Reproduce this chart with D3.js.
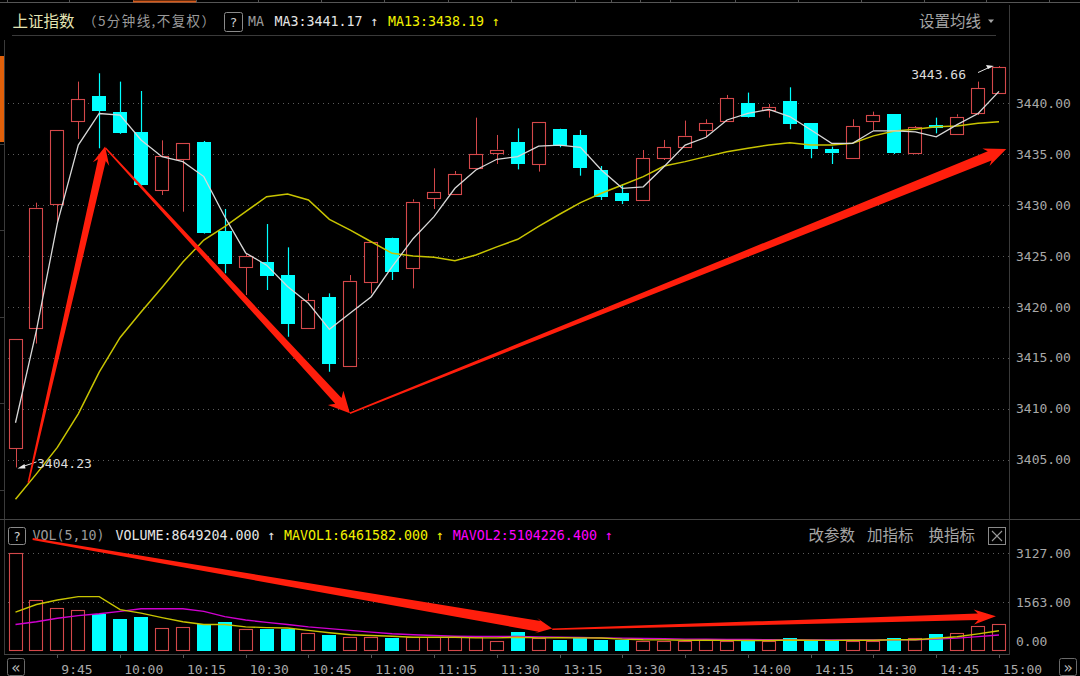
<!DOCTYPE html>
<html><head><meta charset="utf-8">
<script src="https://cdn.jsdelivr.net/npm/d3@7/dist/d3.min.js"></script>
<style>html,body{margin:0;padding:0;background:#000;overflow:hidden}</style>
</head><body>
<svg id="c" width="1080" height="676"></svg>
<script>
// ---------- DATA ----------
const opens  = [3406.10,3417.96,3430.10,3438.26,3440.72,3439.12,3437.15,3431.48,3434.50,3436.23,3427.42,3423.95,3424.44,3423.13,3417.96,3420.94,3414.19,3422.41,3426.80,3423.85,3430.67,3431.06,3433.68,3435.09,3436.23,3434.04,3437.48,3436.86,3433.45,3431.22,3430.50,3434.60,3435.74,3437.38,3438.30,3440.00,3439.34,3440.26,3438.03,3435.48,3434.60,3438.23,3438.95,3435.09,3437.87,3436.95,3439.02,3440.98];
const highs  = [3416.80,3430.24,3437.40,3442.13,3442.95,3442.13,3441.21,3436.36,3436.07,3436.30,3429.62,3425.20,3428.14,3425.85,3421.33,3421.33,3423.13,3426.41,3426.80,3430.57,3433.61,3433.35,3438.59,3436.89,3437.54,3438.17,3437.50,3437.38,3433.84,3432.07,3435.41,3436.40,3438.30,3438.43,3440.82,3441.05,3439.93,3441.57,3438.03,3435.74,3438.43,3439.18,3438.95,3437.77,3438.59,3438.92,3442.13,3443.66];
const lows   = [3404.23,3416.40,3428.20,3436.50,3435.58,3437.00,3431.90,3430.99,3429.35,3427.20,3423.30,3421.17,3421.66,3417.07,3417.96,3413.63,3414.19,3421.33,3422.64,3421.82,3429.62,3431.00,3433.68,3434.04,3433.51,3433.29,3435.68,3432.89,3430.50,3430.10,3430.40,3434.43,3435.70,3436.66,3438.30,3438.60,3438.59,3437.45,3434.60,3434.04,3434.60,3437.38,3435.02,3435.00,3437.05,3436.95,3438.85,3440.98];
const closes = [3416.80,3429.75,3437.38,3440.39,3439.28,3437.05,3431.94,3434.86,3436.07,3427.23,3424.21,3425.00,3423.03,3418.32,3420.68,3414.39,3422.58,3426.41,3423.43,3430.34,3431.32,3433.06,3434.99,3435.45,3434.04,3438.17,3435.81,3433.68,3430.76,3430.40,3434.63,3435.68,3436.82,3438.03,3440.49,3438.62,3439.60,3437.97,3435.48,3435.09,3437.77,3438.82,3435.09,3437.64,3437.54,3438.69,3441.47,3443.54];
const ma3    = [3408.62,3417.70,3428.20,3435.90,3439.00,3438.85,3436.40,3434.76,3434.27,3432.80,3428.86,3425.30,3424.10,3422.00,3420.35,3417.80,3419.40,3421.00,3423.95,3426.70,3428.86,3431.65,3433.45,3434.50,3434.76,3435.80,3435.90,3435.68,3433.45,3431.65,3431.80,3433.80,3435.90,3436.66,3438.36,3439.00,3439.40,3438.70,3437.40,3436.07,3436.07,3437.30,3437.30,3437.20,3436.70,3437.90,3439.00,3441.17];
const ma13   = [3401.10,3403.60,3406.20,3409.50,3413.60,3417.00,3419.50,3421.90,3424.40,3426.57,3427.88,3429.35,3430.83,3431.09,3430.50,3428.60,3427.55,3426.40,3425.26,3425.00,3424.87,3424.54,3425.10,3425.90,3426.64,3427.90,3429.10,3430.24,3431.16,3431.97,3432.80,3433.84,3434.27,3434.76,3435.25,3435.58,3435.90,3436.13,3435.90,3435.90,3436.07,3436.80,3437.28,3437.45,3437.70,3437.77,3438.03,3438.19];
const volumes= [3127,1628,1363,1309,1188,1012,1098,747,769,846,913,693,715,715,571,495,440,440,405,440,440,440,440,329,603,405,361,405,361,341,329,329,329,361,329,319,329,405,319,329,329,329,405,405,539,571,792,864.92];
const mavol1 = [1242,1484,1628,1736,1736,1318,1210,1066,935,846,846,769,747,734,657,581,517,495,472,440,440,440,418,418,440,420,425,420,415,380,360,355,345,345,340,335,335,350,345,340,342,345,360,358,405,455,545,646.16];
const mavol2 = [846,935,1044,1130,1188,1264,1350,1350,1350,1264,1098,990,913,846,769,715,657,603,549,517,495,472,461,461,461,450,440,430,420,410,400,390,380,375,370,365,360,355,352,350,350,350,355,360,380,410,460,510.42];
const tickIdx    = [2,5,8,11,14,17,20,23,26,29,32,35,38,41,44,47];
const tickLabels = ["9:45","10:00","10:15","10:30","10:45","11:00","11:15","11:30","13:15","13:30","13:45","14:00","14:15","14:30","14:45","15:00"];
const priceTicks = [3405,3410,3415,3420,3425,3430,3435,3440];
const volTicks   = [0,1563,3127];
// annotation arrows (bar index, value)
const priceArrows = [
  {from:[0.61,3402.73], to:[4.28,3435.75], w0:1.5, w1:8, hl:14, hw:17},
  {from:[4.30,3435.60], to:[15.98,3409.55], w0:1.5, w1:8.5, hl:17, hw:21},
  {from:[15.98,3409.55], to:[47.35,3435.50], w0:1.5, w1:10, hl:18, hw:19}
];
const volArrows = [
  {from:[0.82,3575], to:[25.65,715], w0:2, w1:11, hl:13, hw:16},
  {from:[25.65,690], to:[46.85,1110], w0:1.5, w1:6.5, hl:18, hw:15}
];

// ---------- SCALES ----------
const svg = d3.select("#c");
const x  = d3.scaleLinear().domain([0,47]).range([15.5,999]);
const yp = d3.scaleLinear().domain([3405,3440]).range([459.6,103.3]);
const yv = d3.scaleLinear().domain([0,3127]).range([651,553]);

const RED="#d4484a", CYAN="#00ffff", AR="#ff1e0c";
const MONO="'DejaVu Sans Mono', monospace", CJK="'Noto Sans CJK SC', sans-serif";

svg.append("rect").attr("width",1080).attr("height",676).attr("fill","#000");

// ---------- FRAME ----------
const fr = svg.append("g").attr("stroke","#3a3a3a").attr("stroke-width",1).attr("fill","none");
fr.append("line").attr("x1",0).attr("x2",1080).attr("y1",2.5).attr("y2",2.5).attr("stroke","#555");
[7,69,133,196,258,321,384,448,511,575,611,640,670,735,798,861,924,986,1049].forEach(v=>
  fr.append("line").attr("x1",v+0.5).attr("x2",v+0.5).attr("y1",0).attr("y2",3).attr("stroke","#555"));
svg.append("line").attr("x1",133).attr("x2",196).attr("y1",1.5).attr("y2",1.5).attr("stroke","#d2591a").attr("stroke-width",2);
fr.append("line").attr("x1",12).attr("x2",996).attr("y1",35.5).attr("y2",35.5);
fr.append("line").attr("x1",1009.5).attr("x2",1009.5).attr("y1",5).attr("y2",655);
fr.append("line").attr("x1",4.5).attr("x2",4.5).attr("y1",40).attr("y2",655);
fr.append("line").attr("x1",0).attr("x2",1080).attr("y1",519.5).attr("y2",519.5).attr("stroke","#444");
fr.append("line").attr("x1",4).attr("x2",1009).attr("y1",654.5).attr("y2",654.5).attr("stroke","#444");
[144,230,317,403,490].forEach(v=>fr.append("line").attr("x1",0).attr("x2",4).attr("y1",v+0.5).attr("y2",v+0.5));
svg.append("rect").attr("x",0).attr("y",56).attr("width",4).attr("height",86).attr("fill","#e0600a");

// ---------- HEADER ----------
const hy = 21.5;
svg.append("text").attr("x",12.5).attr("y",hy).attr("dy","0.36em").attr("font-family",CJK).attr("font-size",15.5).attr("fill","#e4e4b4").text("上证指数");
svg.append("text").attr("x",83).attr("y",hy).attr("dy","0.36em").attr("font-family",CJK).attr("font-size",13.5).attr("fill","#9a9a9a").attr("textLength",132).attr("lengthAdjust","spacing").text("（5分钟线,不复权）");
svg.append("rect").attr("x",224.5).attr("y",12.5).attr("width",18).attr("height",19).attr("rx",2).attr("fill","none").attr("stroke","#8a8a8a");
svg.append("text").attr("x",233.5).attr("y",hy+1).attr("dy","0.36em").attr("text-anchor","middle").attr("font-family",MONO).attr("font-size",13).attr("fill","#cfcfcf").text("?");
const hdr=[["MA",248,"#9a9a9a"],["MA3:3441.17 ↑",274.5,"#e6e6e6"],["MA13:3438.19 ↑",388,"#f2f200"]];
hdr.forEach(h=>svg.append("text").attr("x",h[1]).attr("y",hy).attr("dy","0.36em").attr("font-family",MONO).attr("font-size",13.3).attr("fill",h[2]).text(h[0]));
svg.append("text").attr("x",919).attr("y",hy).attr("dy","0.36em").attr("font-family",CJK).attr("font-size",15.5).attr("fill","#a5a5a5").text("设置均线");
svg.append("path").attr("d","M988,19.5 L994,19.5 L991,23 Z").attr("fill","#a5a5a5");

// ---------- GRID ----------
const grid = svg.append("g").attr("stroke","#5c5c5c").attr("stroke-dasharray","1,4");
priceTicks.forEach(t=>grid.append("line").attr("x1",8).attr("x2",1009).attr("y1",Math.round(yp(t))+0.5).attr("y2",Math.round(yp(t))+0.5));
volTicks.filter(t=>t>0).forEach(t=>grid.append("line").attr("x1",8).attr("x2",1009).attr("y1",Math.round(yv(t))+0.5).attr("y2",Math.round(yv(t))+0.5));

// price axis labels
svg.append("g").selectAll("text").data(priceTicks).join("text")
  .attr("x",1016).attr("y",d=>yp(d)).attr("dy","0.36em")
  .attr("font-family",MONO).attr("font-size",13).attr("fill","#a8a8a8").text(d=>d.toFixed(2));
svg.append("g").selectAll("text").data(volTicks).join("text")
  .attr("x",1016).attr("y",d=>d===0?yv(d)-9.5:yv(d)).attr("dy","0.36em")
  .attr("font-family",MONO).attr("font-size",13).attr("fill","#a8a8a8").text(d=>d.toFixed(2));

// ---------- CANDLES ----------
const cg = svg.append("g");
closes.forEach((c,i)=>{
  const o=opens[i], up=c>=o;
  const cx=Math.round(x(i))+0.5;
  const top=yp(Math.max(o,c)), bot=yp(Math.min(o,c));
  const col=up?RED:CYAN;
  if(up){
    if(yp(highs[i])<top-0.5) cg.append("line").attr("x1",cx).attr("x2",cx).attr("y1",yp(highs[i])).attr("y2",top).attr("stroke",col);
    if(yp(lows[i])>bot+0.5) cg.append("line").attr("x1",cx).attr("x2",cx).attr("y1",bot).attr("y2",yp(lows[i])).attr("stroke",col);
    cg.append("rect").attr("x",Math.round(x(i))-6.5).attr("y",Math.round(top)+0.5).attr("width",13)
      .attr("height",Math.max(1,Math.round(bot)-Math.round(top))).attr("fill","#000").attr("stroke",col).attr("stroke-width",1.1);
  } else {
    cg.append("line").attr("x1",cx).attr("x2",cx).attr("y1",yp(highs[i])).attr("y2",yp(lows[i])).attr("stroke",col).attr("stroke-width",1.2);
    cg.append("rect").attr("x",Math.round(x(i))-7).attr("y",Math.round(top)).attr("width",14)
      .attr("height",Math.max(2,Math.round(bot)-Math.round(top))).attr("fill",col);
  }
});
const lineP = d3.line().x((d,i)=>x(i)).y(d=>yp(d));
svg.append("path").attr("d",lineP(ma13)).attr("fill","none").attr("stroke","#c8c400").attr("stroke-width",1.5);
svg.append("path").attr("d",lineP(ma3)).attr("fill","none").attr("stroke","#d8d8d8").attr("stroke-width",1.3);

// high / low labels
(function(){
  const lx=x(0)+2, ly=yp(lows[0])+1;
  svg.append("line").attr("x1",lx+19).attr("y1",ly-6.5).attr("x2",lx+4).attr("y2",ly-1.5).attr("stroke","#e0e0e0");
  svg.append("path").attr("d",`M${lx},${ly} L${lx+7},${ly-4.5} L${lx+8},${ly}Z`).attr("fill","#e8e8e8");
  svg.append("text").attr("x",lx+19.5).attr("y",ly-5.5).attr("dy","0.36em").attr("font-family",MONO).attr("font-size",13).attr("fill","#dcdcdc").text(lows[0].toFixed(2));
  const hx=x(47)-5, hyy=yp(highs[47]);
  svg.append("line").attr("x1",hx-16).attr("y1",hyy+6.5).attr("x2",hx-4).attr("y2",hyy+1).attr("stroke","#e0e0e0");
  svg.append("path").attr("d",`M${hx},${hyy} L${hx-8},${hyy-1} L${hx-6},${hyy+3}Z`).attr("fill","#e8e8e8");
  svg.append("text").attr("x",hx-28).attr("y",hyy+8).attr("dy","0.36em").attr("text-anchor","end").attr("font-family",MONO).attr("font-size",13).attr("fill","#dcdcdc").text(highs[47].toFixed(2));
})();

// ---------- VOLUME ----------
const vg = svg.append("g");
volumes.forEach((v,i)=>{
  const up = closes[i]>=opens[i];
  const t=Math.round(yv(v)), b=Math.round(yv(0));
  if(up) vg.append("rect").attr("x",Math.round(x(i))-6.5).attr("y",t+0.5).attr("width",13).attr("height",b-t-1).attr("fill","#000").attr("stroke",RED).attr("stroke-width",1.1);
  else vg.append("rect").attr("x",Math.round(x(i))-7).attr("y",t).attr("width",14).attr("height",b-t).attr("fill",CYAN);
});
const lineV = d3.line().x((d,i)=>x(i)).y(d=>yv(d));
svg.append("path").attr("d",lineV(mavol2)).attr("fill","none").attr("stroke","#d000d0").attr("stroke-width",1.4);
svg.append("path").attr("d",lineV(mavol1)).attr("fill","none").attr("stroke","#c8c400").attr("stroke-width",1.4);

// volume header
const vy=535.7;
svg.append("rect").attr("x",8.5).attr("y",527.5).attr("width",17).attr("height",17).attr("rx",2).attr("fill","none").attr("stroke","#8a8a8a");
svg.append("text").attr("x",17).attr("y",vy+0.5).attr("dy","0.36em").attr("text-anchor","middle").attr("font-family",MONO).attr("font-size",12.5).attr("fill","#cfcfcf").text("?");
[["VOL(5,10)",32.5,"#9a9a9a"],["VOLUME:8649204.000 ↑",115.4,"#e6e6e6"],["MAVOL1:6461582.000 ↑",284,"#f2f200"],["MAVOL2:5104226.400 ↑",452.8,"#ff00ff"]]
  .forEach(h=>svg.append("text").attr("x",h[1]).attr("y",vy).attr("dy","0.36em").attr("font-family",MONO).attr("font-size",13.3).attr("fill",h[2]).text(h[0]));
[["改参数",808.6],["加指标",867],["换指标",928.4]].forEach(h=>
  svg.append("text").attr("x",h[1]).attr("y",vy).attr("dy","0.36em").attr("font-family",CJK).attr("font-size",15.5).attr("fill","#a5a5a5").text(h[0]));
svg.append("rect").attr("x",988.5).attr("y",527.5).attr("width",17).attr("height",17).attr("fill","none").attr("stroke","#8a8a8a");
svg.append("path").attr("d","M992,531 L1002,541 M1002,531 L992,541").attr("stroke","#9a9a9a").attr("stroke-width",1.1);

// ---------- TIME AXIS ----------
const ta = svg.append("g");
tickIdx.forEach((ti,k)=>{
  const tx=Math.round(x(ti))+0.5;
  ta.append("line").attr("x1",tx).attr("x2",tx).attr("y1",655).attr("y2",658).attr("stroke","#555");
  ta.append("text").attr("x",x(ti)+4).attr("y",669).attr("dy","0.36em").attr("font-family",MONO).attr("font-size",13).attr("fill","#a8a8a8").text(tickLabels[k]);
});
svg.append("rect").attr("x",7.5).attr("y",658.5).attr("width",17).attr("height",17).attr("rx",2).attr("fill","none").attr("stroke","#6a6a6a");
svg.append("text").attr("x",16).attr("y",667.5).attr("dy","0.36em").attr("text-anchor","middle").attr("font-family",MONO).attr("font-size",15).attr("fill","#bdbdbd").text("«");
svg.append("rect").attr("x",1059.5).attr("y",658.5).attr("width",17).attr("height",17).attr("rx",2).attr("fill","none").attr("stroke","#6a6a6a");
svg.append("text").attr("x",1068).attr("y",667.5).attr("dy","0.36em").attr("text-anchor","middle").attr("font-family",MONO).attr("font-size",15).attr("fill","#bdbdbd").text("»");

// ---------- ANNOTATION ARROWS ----------
function taper(p0,p1,w0,w1,hl,hw){
  const dx=p1[0]-p0[0], dy=p1[1]-p0[1], L=Math.hypot(dx,dy);
  const ux=dx/L, uy=dy/L, nx=-uy, ny=ux, notch=4;
  const bx=p1[0]-ux*hl, by=p1[1]-uy*hl;
  const cx=bx-ux*notch, cy=by-uy*notch;
  const pts=[[p0[0]+nx*w0/2,p0[1]+ny*w0/2],[bx+nx*w1/2,by+ny*w1/2],[cx+nx*hw/2,cy+ny*hw/2],p1,
             [cx-nx*hw/2,cy-ny*hw/2],[bx-nx*w1/2,by-ny*w1/2],[p0[0]-nx*w0/2,p0[1]-ny*w0/2]];
  return pts.map(p=>p[0].toFixed(1)+","+p[1].toFixed(1)).join(" ");
}
const ag = svg.append("g");
priceArrows.forEach(a=>ag.append("polygon").attr("fill",AR)
  .attr("points",taper([x(a.from[0]),yp(a.from[1])],[x(a.to[0]),yp(a.to[1])],a.w0,a.w1,a.hl,a.hw)));
volArrows.forEach(a=>ag.append("polygon").attr("fill",AR)
  .attr("points",taper([x(a.from[0]),yv(a.from[1])],[x(a.to[0]),yv(a.to[1])],a.w0,a.w1,a.hl,a.hw)));
</script>
</body></html>
